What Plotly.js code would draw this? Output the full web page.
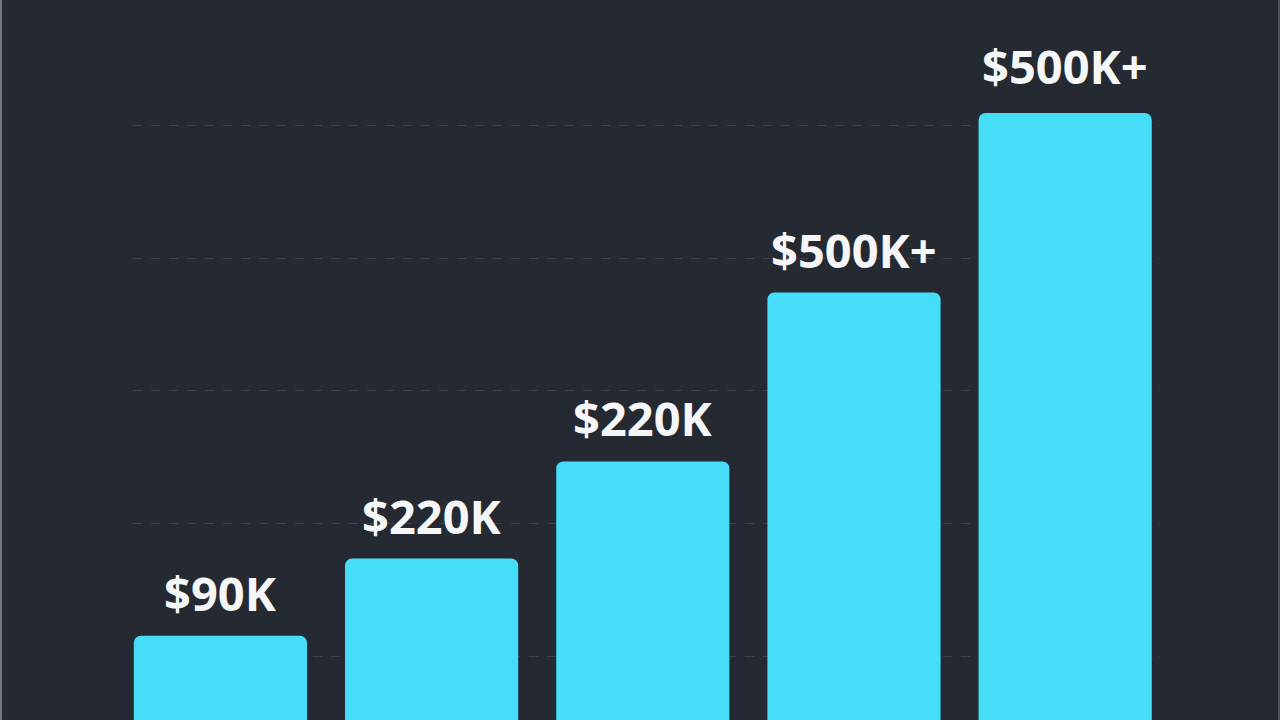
<!DOCTYPE html>
<html>
<head>
<meta charset="utf-8">
<script src="https://cdn.plot.ly/plotly-3.0.1.min.js"></script>
<style>
  html, body { margin: 0; padding: 0; background: #252a32; overflow: hidden; }
  #plot { width: 1276px; height: 720px; border-left: 2px solid #6f7680; border-right: 2px solid #4a5059; }
</style>
</head>
<body>
<div id="plot"></div>
<script>
// bar heights (gridline steps = 100)
const stufen = ['A', 'B', 'C', 'D', 'E']
const hoehen = [116, 174, 247, 374, 509]
const etiketten = ['$90K', '$220K', '$220K', '$500K+', '$500K+']

const data = [{
  type: 'bar',
  x: stufen,
  y: hoehen,
  marker: { color: '#45ddf8', cornerradius: 7, line: { width: 0 } },
  hoverinfo: 'skip'
}]

const anmerkungen = stufen.map((s, i) => ({
  x: s, y: hoehen[i], xref: 'x', yref: 'y',
  text: etiketten[i], showarrow: false,
  yanchor: 'bottom', yshift: i === 4 ? 13 : 9,
  font: { family: 'Noto Sans', size: 47, color: '#f4f6f8', weight: 700 }
}))

const layout = {
  width: 1276, height: 720,
  margin: { l: 131, r: 118, t: 0, b: 0, pad: 0 },
  paper_bgcolor: '#252a32',
  plot_bgcolor: '#252a32',
  showlegend: false,
  bargap: 0.18,
  xaxis: {
    type: 'category', range: [-0.414, 4.449],
    showticklabels: false, showgrid: false, zeroline: false, showline: false, ticks: ''
  },
  yaxis: {
    range: [52.6, 594], dtick: 100, tick0: 0,
    showticklabels: false, zeroline: false, showline: false, ticks: '',
    showgrid: true, gridcolor: '#3b414a', gridwidth: 1, griddash: 'dash'
  },
  annotations: anmerkungen
}

Plotly.newPlot('plot', data, layout, { staticPlot: true, displayModeBar: false })
</script>
</body>
</html>
